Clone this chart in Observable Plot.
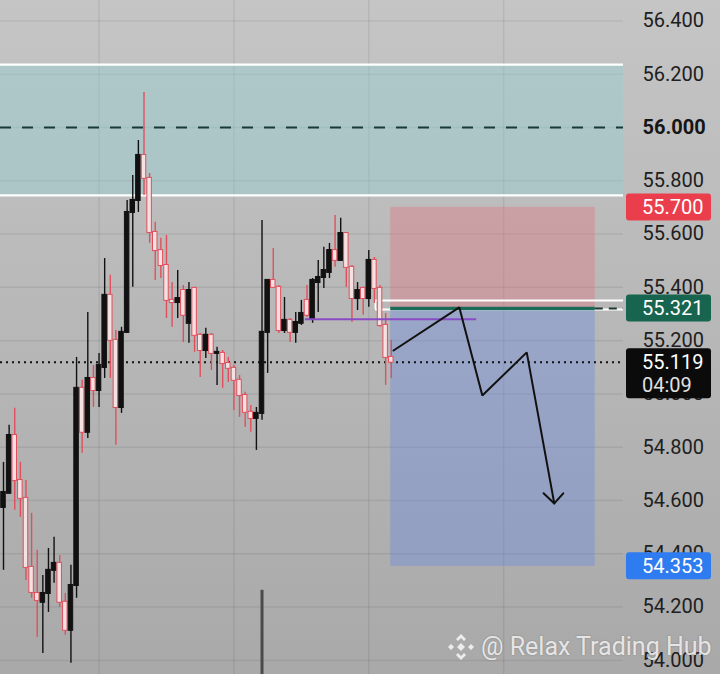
<!DOCTYPE html>
<html><head><meta charset="utf-8">
<script src="https://cdn.jsdelivr.net/npm/d3@7"></script>
<script src="https://cdn.jsdelivr.net/npm/@observablehq/plot@0.6"></script>
<style>
html,body{margin:0;padding:0;background:#b8b8b8;}
#wrap{position:relative;width:720px;height:674px;overflow:hidden;background:linear-gradient(#c5c5c5,#a9a9a9);}
#wm{position:absolute;left:447px;top:632px;display:flex;align-items:center;font-family:Roboto,sans-serif;font-size:25px;color:rgba(242,242,242,0.9);text-shadow:0 0 2px rgba(0,0,0,0.25);white-space:nowrap;}
#wm svg{margin-right:6px;}
</style></head><body><div id="wrap"></div>
<script>
// ---- candle data (bar index = position in arrays) ----
const opens = [54.574,54.627,54.844,54.675,54.608,54.349,54.251,54.218,54.251,54.338,54.364,54.218,54.113,54.281,55.021,54.856,55.058,55.013,55.099,55.370,55.201,54.949,55.231,55.681,55.726,55.895,55.809,55.606,55.538,55.482,55.351,55.343,55.388,55.265,55.396,55.220,55.163,55.220,55.152,55.152,55.114,55.096,55.051,54.994,54.931,54.908,54.927,55.231,55.426,55.400,55.238,55.276,55.231,55.265,55.351,55.283,55.418,55.437,55.456,55.538,55.501,55.602,55.475,55.358,55.396,55.358,55.501,55.396,55.257,55.137];
const closes = [54.630,54.844,54.675,54.608,54.349,54.255,54.225,54.251,54.338,54.364,54.218,54.113,54.281,55.021,54.856,55.058,55.013,55.107,55.370,55.201,54.949,55.231,55.681,55.726,55.895,55.809,55.606,55.538,55.482,55.351,55.343,55.358,55.295,55.388,55.220,55.163,55.220,55.152,55.156,55.114,55.096,55.051,54.994,54.931,54.908,54.927,55.231,55.426,55.400,55.238,55.276,55.231,55.268,55.302,55.295,55.426,55.437,55.463,55.538,55.501,55.602,55.475,55.358,55.388,55.358,55.501,55.396,55.257,55.137,55.119];
const highs = [54.743,54.882,54.946,54.743,54.675,54.552,54.413,54.319,54.420,54.462,54.394,54.251,54.357,55.137,55.051,55.306,55.107,55.152,55.508,55.445,55.238,55.250,55.726,55.820,55.951,56.131,55.827,55.644,55.584,55.595,55.418,55.463,55.407,55.418,55.400,55.227,55.246,55.227,55.175,55.163,55.137,55.107,55.069,55.006,54.957,54.949,55.651,55.426,55.546,55.407,55.362,55.283,55.306,55.351,55.407,55.433,55.501,55.550,55.565,55.670,55.659,55.606,55.482,55.418,55.400,55.538,55.512,55.407,55.302,55.201];
const lows = [54.338,54.627,54.563,54.537,54.300,54.233,54.086,54.026,54.180,54.289,54.199,54.094,53.989,54.233,54.777,54.833,54.949,54.949,55.058,55.058,54.807,54.927,55.227,55.400,55.681,55.745,55.565,55.426,55.433,55.283,55.250,55.283,55.193,55.190,55.156,55.062,55.133,55.088,55.032,55.021,55.043,54.938,54.912,54.874,54.856,54.788,54.901,55.077,55.396,55.227,55.227,55.193,55.190,55.257,55.287,55.265,55.306,55.396,55.433,55.475,55.501,55.400,55.268,55.313,55.295,55.325,55.340,55.250,55.032,55.058];

// ---- axis ticks ----
const priceTicks = [54.0,54.2,54.4,54.6,54.8,55.0,55.2,55.4,55.6,55.8,56.0,56.2,56.4];
const boldTick = 56.0;
const timeGridBars = [17,41,65,89];

// ---- drawings ----
const zoneLow = 55.745, zoneHigh = 56.236, zoneMid = 56.0;
const stopPrice = 55.700, entryPrice = 55.321, targetPrice = 54.353, lastPrice = 55.119;
const countdown = "04:09";
const positionStartBar = 68.9, positionEndBar = 105.3;
const entryFrameStartBar = 66.2, entryFrameTop = 55.351, entryFrameBottom = 55.317;
const purpleLevel = 55.280, purpleStartBar = 53.7, purpleEndBar = 84.2;
const pathBars = [69.4, 81.1, 85.2, 93.1, 98.0];
const pathPrices = [55.163, 55.325, 54.994, 55.156, 54.589];
const headBars = [96.1, 98.0, 99.6];
const headPrices = [54.627, 54.589, 54.627];
const markerBar = 46, markerTop = 54.263;
const watermark = "@ Relax Trading Hub";

// ---- build tables ----
const candles = opens.map((o, i) => ({i, open: o, close: closes[i], high: highs[i], low: lows[i], up: closes[i] >= o}));
const path = pathBars.map((b, k) => ({b, p: pathPrices[k]}));
const head = headBars.map((b, k) => ({b, p: headPrices[k]}));

const xDomain = [-0.534, 110.32];
const yDomain = [53.947, 56.4765];
const UP = "#111111", DOWN = "#e0505c", DOWNFILL = "#f5e0e2";

const plot = Plot.plot({
  width: 720, height: 674,
  marginLeft: 0, marginRight: 97, marginTop: 0, marginBottom: 0,
  x: {domain: xDomain, axis: null},
  y: {domain: yDomain, axis: null},
  color: {type: "identity"},
  style: {background: "transparent", fontFamily: "Roboto, sans-serif", overflow: "visible"},
  marks: [
    // grid
    Plot.ruleY(priceTicks, {y: d => d, x1: xDomain[0], x2: xDomain[1], stroke: "#000", strokeOpacity: 0.07, strokeWidth: 1.5}),
    Plot.ruleX(timeGridBars, {x: d => d, stroke: "#000", strokeOpacity: 0.07, strokeWidth: 1.5}),
    // supply zone
    Plot.rect([{a: xDomain[0], b: xDomain[1], lo: zoneLow, hi: zoneHigh}], {x1: "a", x2: "b", y1: "lo", y2: "hi", fill: "#8fd0d4", fillOpacity: 0.38}),
    Plot.ruleY([zoneLow, zoneHigh], {y: d => d, x1: xDomain[0], x2: xDomain[1], stroke: "#ffffff", strokeWidth: 2.2}),
    Plot.ruleY([zoneMid], {y: d => d, x1: xDomain[0], x2: xDomain[1], stroke: "#163a38", strokeWidth: 2, strokeDasharray: "11,11"}),
    // position boxes
    Plot.rect([{a: positionStartBar, b: positionEndBar, lo: entryPrice, hi: stopPrice}], {x1: "a", x2: "b", y1: "lo", y2: "hi", fill: "#e26e7e", fillOpacity: 0.36}),
    Plot.rect([{a: positionStartBar, b: positionEndBar, lo: targetPrice, hi: entryPrice}], {x1: "a", x2: "b", y1: "lo", y2: "hi", fill: "#6a8ae0", fillOpacity: 0.38}),
    // entry level frame (open on the right, where it meets the axis tag)
    Plot.ruleY([entryFrameBottom, entryFrameTop], {y: d => d, x1: entryFrameStartBar, x2: xDomain[1], stroke: "#ffffff", strokeWidth: 2}),
    Plot.ruleX([{b: entryFrameStartBar, lo: entryFrameBottom, hi: entryFrameTop}], {x: "b", y1: "lo", y2: "hi", stroke: "#ffffff", strokeWidth: 2}),
    Plot.ruleY([{y: entryPrice, a: positionStartBar, b: positionEndBar}], {y: "y", x1: "a", x2: "b", stroke: "#1a6b57", strokeWidth: 3.5}),
    Plot.ruleY([{y: entryPrice, a: positionEndBar, b: xDomain[1]}], {y: "y", x1: "a", x2: "b", stroke: "#1e3a34", strokeWidth: 2, strokeDasharray: "8,6"}),
    // last price line
    Plot.ruleY([lastPrice], {y: d => d, x1: xDomain[0], x2: xDomain[1], stroke: "#111", strokeWidth: 2, strokeDasharray: "2,4"}),
    // marker line at bottom
    Plot.ruleX([{b: markerBar, lo: yDomain[0], hi: markerTop}], {x: "b", y1: "lo", y2: "hi", stroke: "#4a4a4a", strokeWidth: 3}),
    // candles
    Plot.ruleX(candles, {x: "i", y1: "low", y2: "high", stroke: d => d.up ? UP : DOWN, strokeWidth: 1.4}),
    Plot.rect(candles, {x1: d => d.i - 0.4, x2: d => d.i + 0.4, y1: "open", y2: "close",
      fill: d => d.up ? UP : DOWNFILL, stroke: d => d.up ? UP : DOWN, strokeWidth: 1, insetTop: -0.5, insetBottom: -0.5}),
    // purple level
    Plot.ruleY([{y: purpleLevel, a: purpleStartBar, b: purpleEndBar}], {y: "y", x1: "a", x2: "b", stroke: "#8a4cc4", strokeWidth: 2}),
    // projected path
    Plot.line(path, {x: "b", y: "p", stroke: "#111", strokeWidth: 2, strokeLinejoin: "miter"}),
    Plot.line(head, {x: "b", y: "p", stroke: "#111", strokeWidth: 2}),
    // price labels
    Plot.text(priceTicks.filter(t => t !== boldTick), {y: d => d, text: d => d.toFixed(3), frameAnchor: "right", dx: 19, textAnchor: "start", fontSize: 20, fill: "#202020"}),
    Plot.text([boldTick], {y: d => d, text: d => d.toFixed(3), frameAnchor: "right", dx: 19, textAnchor: "start", fontSize: 20, fontWeight: "bold", fill: "#151515"})
  ]
});

document.getElementById("wrap").appendChild(plot);

// price tags on the axis, positioned through the plot's y scale
const ys = plot.scale("y");
const svg = d3.select(plot);
const tags = svg.append("g").attr("font-family", "Roboto, sans-serif").attr("font-size", 20).attr("text-anchor", "start");
function tag(price, fill, extra) {
  const yc = ys.apply(price);
  const h = extra ? 50 : 27;
  tags.append("rect").attr("x", 626).attr("y", yc - 13.5).attr("width", 85).attr("height", h).attr("rx", 3).attr("fill", fill);
  tags.append("text").attr("x", 642).attr("y", yc).attr("dy", "0.36em").attr("text-anchor", "start").attr("fill", "#fff").text(price.toFixed(3));
  if (extra) tags.append("text").attr("x", 642).attr("y", yc + 23).attr("dy", "0.36em").attr("text-anchor", "start").attr("fill", "#e0e0e0").text(extra);
}
tag(stopPrice, "#ea3e4c");
tag(entryPrice, "#17654f");
tag(lastPrice, "#0b0b0b", countdown);
tag(targetPrice, "#2f7cf0");

// watermark
const wm = document.createElement("div");
wm.id = "wm";
wm.innerHTML = '<svg width="28" height="28" viewBox="0 0 28 28"><g fill="rgba(242,242,242,0.92)">' +
  '<path d="M14 1 L19 6 L17 8 L14 5 L11 8 L9 6 Z"/>' +
  '<path d="M14 27 L9 22 L11 20 L14 23 L17 20 L19 22 Z"/>' +
  '<path d="M1 14 L4 11 L7 14 L4 17 Z"/>' +
  '<path d="M27 14 L24 11 L21 14 L24 17 Z"/>' +
  '<path d="M14 10 L18 14 L14 18 L10 14 Z"/>' +
  '</g></svg><span></span>';
wm.querySelector("span").textContent = watermark;
document.getElementById("wrap").appendChild(wm);
</script>
</body></html>
